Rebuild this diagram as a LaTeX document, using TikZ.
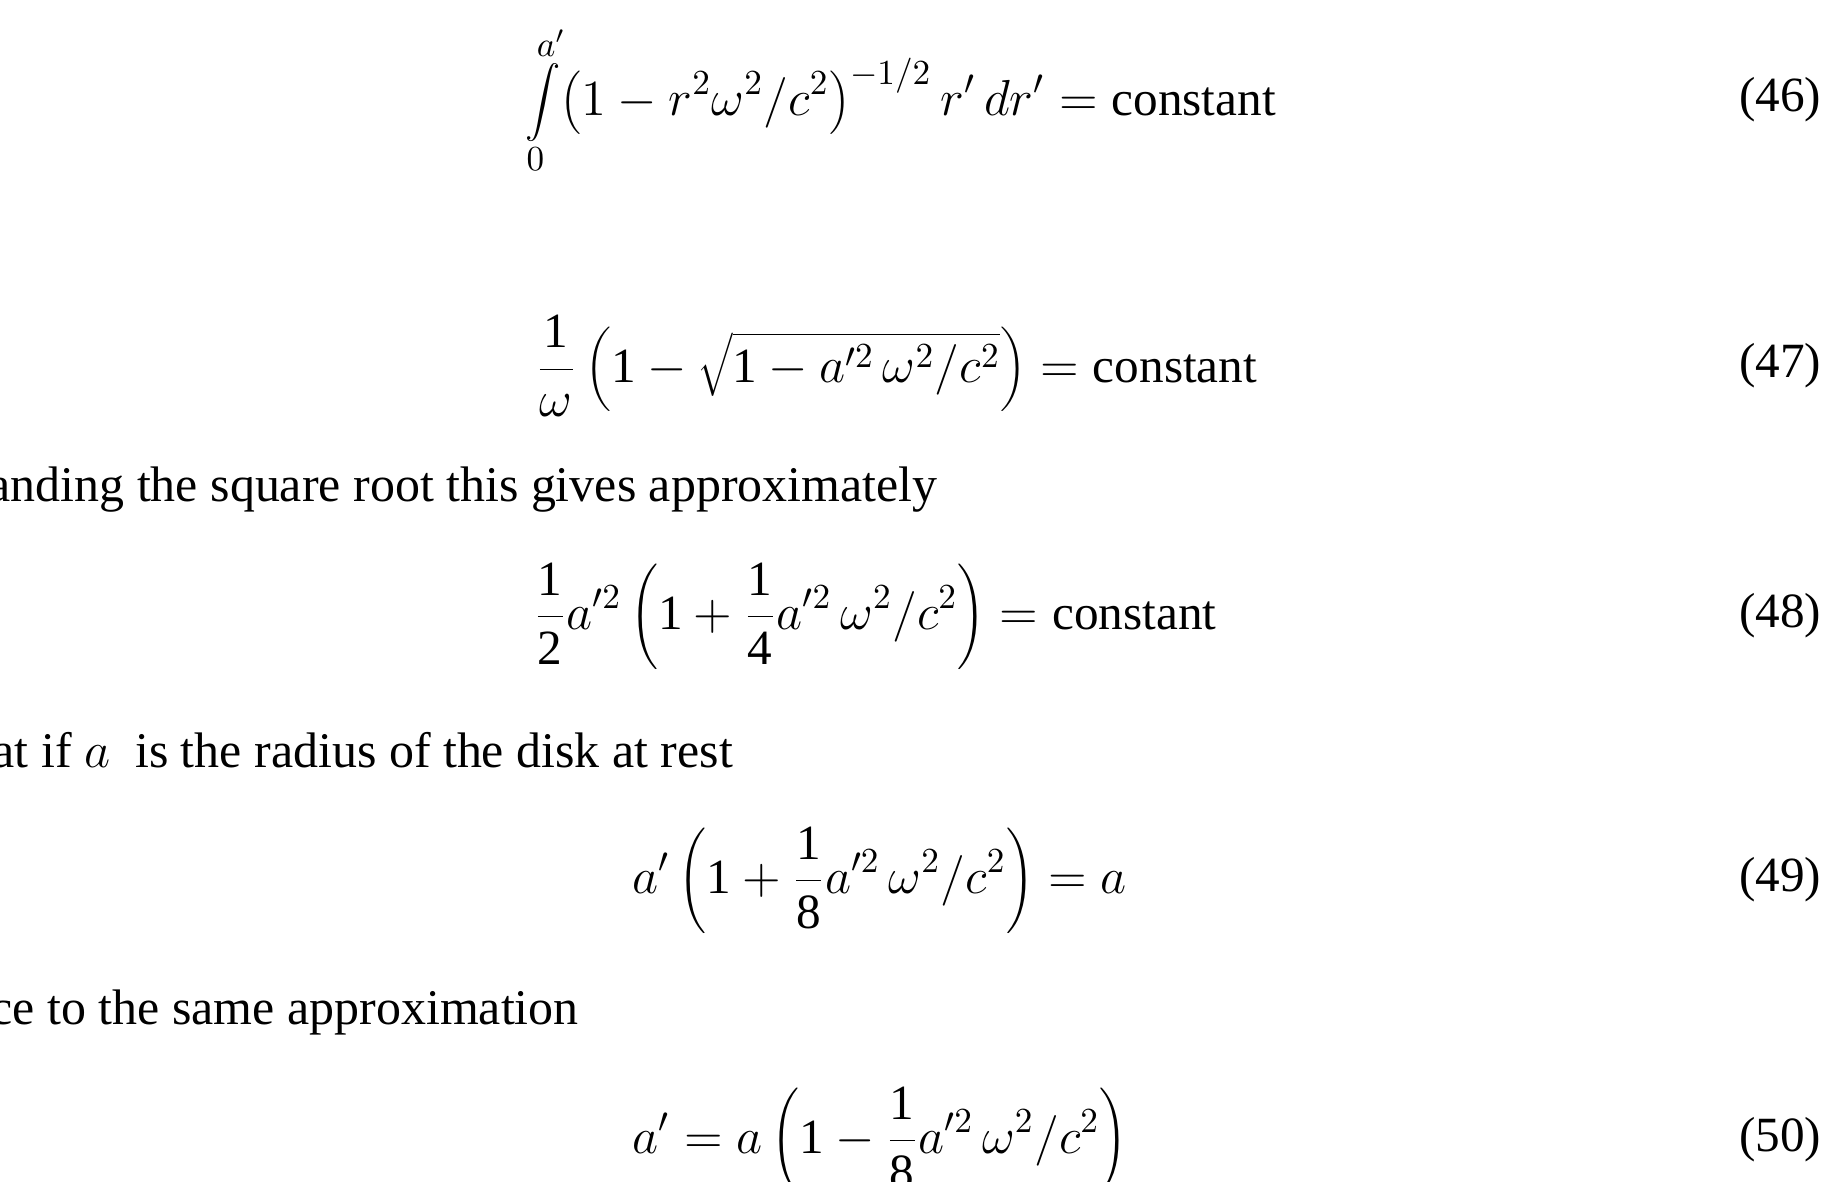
\documentclass[tikz,border=0pt]{standalone}
\usepackage{fontspec}
\setmainfont{Liberation Serif}
\begin{document}
\begin{tikzpicture}[x=0.01cm,y=-0.01cm,
  eq/.style={anchor=west,inner sep=0pt,font=\fontsize{14}{17}\selectfont},
  lbl/.style={anchor=east,inner sep=0pt,font=\fontsize{14}{17}\selectfont},
  txt/.style={anchor=west,inner sep=0pt,font=\fontsize{14.2}{17}\selectfont}]
\useasboundingbox (0,0) rectangle (1828,1181);
\clip (0,0) rectangle (1828,1181);
\node[eq] (e46) at (525,100) {$\displaystyle\int\limits_0^{a'}\!\left(1-r^2\omega^2/c^2\right)^{-1/2} r'\,dr' = \textrm{constant}$};
\node[lbl] (l46) at (1822,100) {(46)};
\node[eq] (e47) at (535,366) {$\displaystyle\frac{\textrm{1}}{\omega}\left(\textrm{1}-\sqrt{\textrm{1}-a'^2\,\omega^2/c^2}\right)=\textrm{constant}$};
\node[lbl] (l47) at (1822,366) {(47)};
\node[txt] (t1) at (-12,490) {anding the square root this gives approximately};
\node[eq] (e48) at (533,616) {$\displaystyle\frac{\textrm{1}}{\textrm{2}}a'^2\left(\textrm{1}+\frac{\textrm{1}}{\textrm{4}}a'^2\,\omega^2/c^2\right)=\textrm{constant}$};
\node[lbl] (l48) at (1822,616) {(48)};
\node[txt] (t2) at (-8,750) {at if $a$ \ is the radius of the disk at rest};
\node[eq] (e49) at (632,880) {$\displaystyle a'\left(\textrm{1}+\frac{\textrm{1}}{\textrm{8}}a'^2\,\omega^2/c^2\right)=a$};
\node[lbl] (l49) at (1822,880) {(49)};
\node[txt] (t3) at (-10,1012) {ce to the same approximation};
\node[eq] (e50) at (632,1140) {$\displaystyle a'=a\left(\textrm{1}-\frac{\textrm{1}}{\textrm{8}}a'^2\,\omega^2/c^2\right)$};
\node[lbl] (l50) at (1822,1140) {(50)};
\end{tikzpicture}
\end{document}
